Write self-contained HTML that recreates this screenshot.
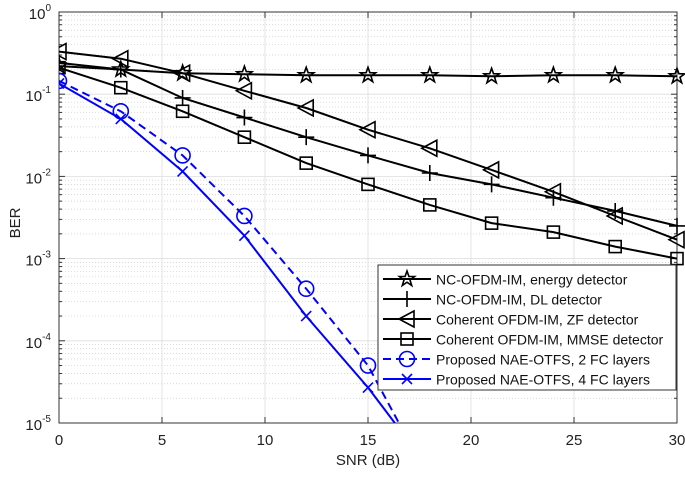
<!DOCTYPE html>
<html><head><meta charset="utf-8"><style>
body{margin:0;background:#fff;font-family:"Liberation Sans",sans-serif;}
svg text{font-family:"Liberation Sans",sans-serif;}
</style></head><body>
<svg id="c" width="685" height="474" xmlns="http://www.w3.org/2000/svg"></svg>
<script>
const snr=[0,3,6,9,12,15,18,21,24,27,30];
const energyBer=[0.22,0.2,0.18,0.175,0.17,0.17,0.17,0.165,0.17,0.17,0.165];
const dlBer=[0.24,0.2,0.09,0.052,0.03,0.018,0.011,0.008,0.0055,0.0038,0.0025];
const zfBer=[0.33,0.27,0.18,0.11,0.068,0.037,0.022,0.012,0.0065,0.0033,0.0017];
const mmseBer=[0.21,0.12,0.062,0.03,0.0145,0.008,0.0045,0.0027,0.0021,0.0014,0.001];
const fc2Snr=[0,3,6,9,12,15,16.5];
const fc2Ber=[0.145,0.062,0.018,0.0033,0.00043,0.00005,0.00001];
const fc4Snr=[0,3,6,9,12,15,16.3];
const fc4Ber=[0.135,0.05,0.0115,0.0019,0.0002,0.000027,0.00001];
const xTicks=[0,5,10,15,20,25,30];
const yExps=[0,-1,-2,-3,-4,-5];
const legendLabels=["NC-OFDM-IM, energy detector","NC-OFDM-IM, DL detector","Coherent OFDM-IM, ZF detector","Coherent OFDM-IM, MMSE detector","Proposed NAE-OTFS, 2 FC layers","Proposed NAE-OTFS, 4 FC layers"];

const svg=document.getElementById('c');const NS="http://www.w3.org/2000/svg";
const L=59,R=677,T=12,B=423;
const X=v=>L+(v/30)*(R-L);
const Y=v=>T+(-Math.log10(v))/5*(B-T);
function mk(t,a,p){const e=document.createElementNS(NS,t);for(const k in a)e.setAttribute(k,a[k]);(p||svg).appendChild(e);return e;}
const grid=mk('g',{});


for(let d=0;d<5;d++)for(let m=2;m<10;m++){const y=Y(Math.pow(10,-d-1)*m);mk('line',{x1:L,x2:R,y1:y,y2:y,stroke:'#ccc','stroke-width':0.7,'stroke-dasharray':'1,2'},grid);}
yExps.forEach(e=>{const y=Y(Math.pow(10,e));mk('line',{x1:L,x2:R,y1:y,y2:y,stroke:'#ddd','stroke-width':0.8},grid);});
xTicks.forEach(v=>{mk('line',{x1:X(v),x2:X(v),y1:T,y2:B,stroke:'#ddd','stroke-width':0.8},grid);});
const ax=mk('rect',{x:L,y:T,width:R-L,height:B-T,fill:'none',stroke:'#333','stroke-width':1});


xTicks.forEach(v=>{mk('line',{x1:X(v),x2:X(v),y1:B,y2:B-6,stroke:'#333'});mk('line',{x1:X(v),x2:X(v),y1:T,y2:T+6,stroke:'#333'});
 const t=mk('text',{x:X(v),y:B+22,'text-anchor':'middle','font-size':15,fill:'#222'});t.textContent=v;
 
 });
yExps.forEach(e=>{const y=Y(Math.pow(10,e));mk('line',{x1:L,x2:L+6,y1:y,y2:y,stroke:'#333'});mk('line',{x1:R,x2:R-6,y1:y,y2:y,stroke:'#333'});
 const t=mk('text',{x:L-8,y:y+7,'text-anchor':'end','font-size':15,fill:'#222'});t.innerHTML='10<tspan dy="-8" font-size="10">'+e+'</tspan>';
 
 });
for(let d=0;d<5;d++)for(let m=2;m<10;m++){const y=Y(Math.pow(10,-d-1)*m);mk('line',{x1:L,x2:L+3,y1:y,y2:y,stroke:'#333'});mk('line',{x1:R,x2:R-3,y1:y,y2:y,stroke:'#333'});}
let t=mk('text',{x:368,y:465,'text-anchor':'middle','font-size':15,fill:'#222'});t.textContent='SNR (dB)';

t=mk('text',{x:20,y:223,'text-anchor':'middle','font-size':15,fill:'#222',transform:'rotate(-90 20 223)'});t.textContent='BER';


function marker(g,type,x,y,c){
 const s={fill:'none',stroke:c,'stroke-width':1.6};
 if(type==='star'){let p=[];for(let i=0;i<10;i++){const r=i%2?3.2:8,a=-Math.PI/2+i*Math.PI/5;p.push((x+r*Math.cos(a)).toFixed(1)+','+(y+r*Math.sin(a)).toFixed(1));}mk('polygon',Object.assign({points:p.join(' ')},s),g);}
 else if(type==='plus'){mk('path',Object.assign({d:`M${x-8},${y}H${x+8}M${x},${y-8}V${y+8}`},s),g);}
 else if(type==='tri'){mk('polygon',Object.assign({points:`${x-8},${y} ${x+7},${y-8} ${x+7},${y+8}`},s),g);}
 else if(type==='sq'){mk('rect',Object.assign({x:x-6,y:y-6,width:12,height:12},s),g);}
 else if(type==='circ'){mk('circle',Object.assign({cx:x,cy:y,r:7.5},s),g);}
 else if(type==='x'){mk('path',Object.assign({d:`M${x-5},${y-5}L${x+5},${y+5}M${x-5},${y+5}L${x+5},${y-5}`},s),g);}
}
const cp=mk('clipPath',{id:'clip'});mk('rect',{x:L,y:T-12,width:R-L+12,height:B-T+12},cp);
const series=[
 {xs:snr,ys:energyBer,m:'star',c:'#000',d:null,n:'series-energy-detector'},
 {xs:snr,ys:dlBer,m:'plus',c:'#000',d:null,n:'series-dl-detector'},
 {xs:snr,ys:zfBer,m:'tri',c:'#000',d:null,n:'series-zf-detector'},
 {xs:snr,ys:mmseBer,m:'sq',c:'#000',d:null,n:'series-mmse-detector'},
 {xs:fc2Snr,ys:fc2Ber,m:'circ',c:'#0000ff',d:'8,5',n:'series-2fc-layers'},
 {xs:fc4Snr,ys:fc4Ber,m:'x',c:'#0000ff',d:null,n:'series-4fc-layers'}];
series.forEach(s=>{const g=mk('g',{'clip-path':'url(#clip)'});
 
 
 const pts=s.xs.map((x,i)=>X(x).toFixed(1)+','+Y(s.ys[i]).toFixed(1)).join(' ');
 const a={points:pts,fill:'none',stroke:s.c,'stroke-width':2};if(s.d)a['stroke-dasharray']=s.d;mk('polyline',a,g);
 s.xs.forEach((x,i)=>{if(x%3===0)marker(g,s.m,X(x),Y(s.ys[i]),s.c);});});
const lg=mk('g',{});


mk('rect',{x:378,y:265,width:298,height:125,fill:'#fff',stroke:'#333','stroke-width':1},lg);
legendLabels.forEach((lab,i)=>{const y=279+i*20,s=series[i];
 const e=mk('g',{},lg);
 
 
 const a={x1:383,x2:431,y1:y,y2:y,stroke:s.c,'stroke-width':2};if(s.d)a['stroke-dasharray']='8,5';mk('line',a,e);
 marker(e,s.m,407,y,s.c);
 const tt=mk('text',{x:436,y:y+5.5,'font-size':14,fill:'#111'},e);tt.textContent=lab;});
</script>
</body></html>
